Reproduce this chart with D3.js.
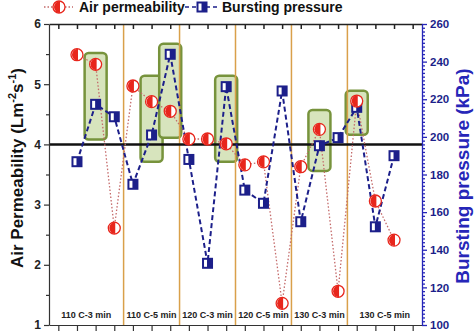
<!DOCTYPE html>
<html><head><meta charset="utf-8">
<script src="https://cdn.jsdelivr.net/npm/d3@7"></script>
<style>body{margin:0;background:#fff}svg{display:block;font-family:"Liberation Sans",Arial,sans-serif}</style>
</head><body>
<svg id="c" width="474" height="334"></svg>
<script>
const groups = ["110 C-3 min","110 C-5 min","120 C-3 min","120 C-5 min","130 C-3 min","130 C-5 min"];
const samplePos = [2,3,4,5,6,7,8,9,10,11,12,13,14,15,16,17,18,19];
const airPerm = [5.49,5.33,2.61,4.97,4.71,4.55,4.09,4.09,4.01,3.66,3.71,1.36,3.63,4.25,1.56,4.72,3.06,2.41];
const bursting = [186.8,217.3,210.7,174.8,201,243.9,188,132.8,226.7,171.7,164.7,224.4,154.9,195.3,199.6,215.7,152.2,190];
const dividers = [4.5,7.5,10.5,13.5,16.5];
const groupEdges = [0.5,4.5,7.5,10.5,13.5,16.5,20.5];
const highlights = [{s:1,lo:4.08,hi:5.52},{s:4,lo:3.71,hi:5.14},{s:5,lo:4.11,hi:5.67},{s:8,lo:3.71,hi:5.14},{s:13,lo:3.56,hi:4.57},{s:15,lo:4.16,hi:4.89}];
const leftTicks = [1,2,3,4,5,6];
const rightTicks = [100,120,140,160,180,200,220,240,260];
const refLine = 4;

const svg = d3.select("#c");
const x = d3.scaleLinear().domain([0.5,20.5]).range([49,422]);
const yL = d3.scaleLinear().domain([1,6]).range([325,24]);
const yR = d3.scaleLinear().domain([100,260]).range([325,24]);
const RED="#e8261c", NAVY="#1c1f8a", BLUE="#2626b8";

// highlight boxes
svg.append("g").selectAll("rect").data(highlights).join("rect")
  .attr("x",d=>x(samplePos[d.s])-11).attr("width",22)
  .attr("y",d=>yL(d.hi)).attr("height",d=>yL(d.lo)-yL(d.hi))
  .attr("rx",4).attr("fill","#d7e4bd").attr("stroke","#77933c").attr("stroke-width",2.5);

// dividers
svg.append("g").selectAll("line").data(dividers).join("line")
  .attr("x1",d=>x(d)).attr("x2",d=>x(d)).attr("y1",24).attr("y2",325)
  .attr("stroke","#d9a04a").attr("stroke-width",1.5);

// reference line
svg.append("line").attr("x1",49).attr("x2",422).attr("y1",yL(refLine)).attr("y2",yL(refLine))
  .attr("stroke","#111").attr("stroke-width",2.5);

// axes
const gl = svg.append("g").attr("transform","translate(49,0)")
  .call(d3.axisLeft(yL).tickValues(leftTicks).tickFormat(d3.format("d")).tickSize(5).tickSizeOuter(0));
gl.append("g").call(d3.axisLeft(yL).tickValues(d3.range(1.5,6,1)).tickFormat("").tickSize(3)).select(".domain").remove();
gl.selectAll("text").attr("font-size",12).attr("font-weight","bold").attr("fill","#222");
gl.selectAll("line,path").attr("stroke","#333").attr("stroke-width",1.2);

const xt = d3.range(1,21);
const gb = svg.append("g").attr("transform","translate(0,325)")
  .call(d3.axisBottom(x).tickValues(xt).tickFormat("").tickSize(6).tickSizeOuter(0));
gb.selectAll("line,path").attr("stroke","#333").attr("stroke-width",1.2);
const gt = svg.append("g").attr("transform","translate(0,24)")
  .call(d3.axisBottom(x).tickValues(xt).tickFormat("").tickSize(5).tickSizeOuter(0));
gt.selectAll("line,path").attr("stroke","#222").attr("stroke-width",1.5);

const gr = svg.append("g").attr("transform","translate(422,0)")
  .call(d3.axisRight(yR).tickValues(rightTicks).tickFormat(d3.format("d")).tickSize(5).tickSizeOuter(0));
gr.append("g").call(d3.axisRight(yR).tickValues(d3.range(102,260,2).filter(v=>v%20)).tickFormat("").tickSize(3)).select(".domain").remove();
gr.selectAll("line,path").attr("stroke",BLUE).attr("stroke-width",1.3);
gr.selectAll("text").attr("font-size",11.5).attr("font-weight","bold").attr("fill",NAVY).attr("x",8);

// group labels
svg.append("g").selectAll("text").data(groups).join("text")
  .attr("x",(d,i)=>(x(groupEdges[i])+x(groupEdges[i+1]))/2).attr("y",318)
  .attr("text-anchor","middle").attr("font-size",9).attr("font-weight","bold").attr("fill","#222")
  .text(d=>d);

// lines
svg.append("path").datum(airPerm)
  .attr("d",d3.line().x((d,i)=>x(samplePos[i])).y(d=>yL(d)))
  .attr("fill","none").attr("stroke","#c46a6a").attr("stroke-width",1.3).attr("stroke-dasharray","1.5,2");
svg.append("path").datum(bursting)
  .attr("d",d3.line().x((d,i)=>x(samplePos[i])).y(d=>yR(d)))
  .attr("fill","none").attr("stroke",NAVY).attr("stroke-width",2).attr("stroke-dasharray","5,3");

function circ(g){
  g.append("circle").attr("r",6).attr("fill","#fff").attr("stroke",RED).attr("stroke-width",1.3);
  g.append("path").attr("d","M1,-6 A6,6 0 1,0 1,6 Z").attr("fill",RED);
}
function sq(g){
  g.append("rect").attr("x",-5.5).attr("y",-5.5).attr("width",11).attr("height",11).attr("fill",NAVY);
  g.append("rect").attr("x",-3.5).attr("y",-3.5).attr("width",3).attr("height",7).attr("fill","#fff");
}
svg.append("g").selectAll("g").data(bursting).join("g")
  .attr("transform",(d,i)=>`translate(${x(samplePos[i])},${yR(d)})`).each(function(){sq(d3.select(this));});
svg.append("g").selectAll("g").data(airPerm).join("g")
  .attr("transform",(d,i)=>`translate(${x(samplePos[i])},${yL(d)})`).each(function(){circ(d3.select(this));});

// legend
const lg = svg.append("g");
lg.append("line").attr("x1",44).attr("x2",73).attr("y1",7).attr("y2",7).attr("stroke","#c46a6a").attr("stroke-width",1.3).attr("stroke-dasharray","1.5,2");
circ(lg.append("g").attr("transform","translate(59,7)"));
lg.append("text").attr("x",79).attr("y",12).attr("font-size",14).attr("font-weight","bold").attr("fill","#111").text("Air permeability");
lg.append("line").attr("x1",185).attr("x2",220).attr("y1",7).attr("y2",7).attr("stroke",NAVY).attr("stroke-width",1.5).attr("stroke-dasharray","4,3");
sq(lg.append("g").attr("transform","translate(202,7)"));
lg.append("text").attr("x",222).attr("y",12).attr("font-size",14).attr("font-weight","bold").attr("fill","#111").text("Bursting pressure");

// axis titles
const lt = svg.append("text").attr("transform","translate(23,168) rotate(-90)")
  .attr("text-anchor","middle").attr("font-size",17).attr("font-weight","bold").attr("fill","#111");
lt.append("tspan").text("Air Permeability (Lm");
lt.append("tspan").attr("font-size",11).attr("dy",-7).text("-2");
lt.append("tspan").attr("dy",7).text("s");
lt.append("tspan").attr("font-size",11).attr("dy",-7).text("-1");
lt.append("tspan").attr("dy",7).text(")");
svg.append("text").attr("transform","translate(469,176) rotate(-90)")
  .attr("text-anchor","middle").attr("font-size",19).attr("font-weight","bold").attr("fill",BLUE)
  .text("Bursting pressure (kPa)");
</script>
</body></html>
